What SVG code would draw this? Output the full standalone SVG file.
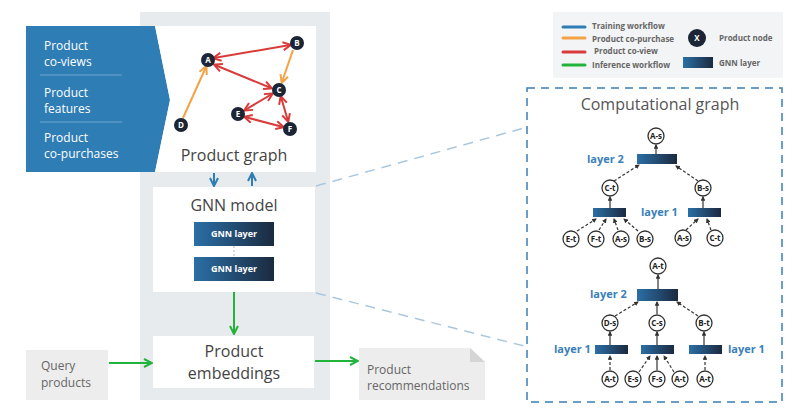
<svg xmlns="http://www.w3.org/2000/svg" width="800" height="420" viewBox="0 0 800 420">
<defs>
<linearGradient id="gl" x1="0" x2="1" y1="0" y2="0"><stop offset="0" stop-color="#2b6fa6"/><stop offset="1" stop-color="#1b2a3f"/></linearGradient>
<marker id="ar" viewBox="0 0 10 10" refX="8" refY="5" markerWidth="5" markerHeight="5" orient="auto-start-reverse"><path d="M1,1 L9,5 L1,9" fill="none" stroke="context-stroke" stroke-width="2"/></marker>
<marker id="ak" viewBox="0 0 10 10" refX="8" refY="5" markerWidth="4" markerHeight="4" orient="auto"><path d="M0,0 L10,5 L0,10 z" fill="#333"/></marker>
</defs>
<style>
text{font-family:"Open Sans","Noto Sans",sans-serif}
.side{fill:#fff;font-size:12px}
.big{fill:#444;font-size:16px;text-anchor:middle}
.gray{fill:#666;font-size:12px}
.gl{fill:url(#gl)}
.glt{fill:#fff;font-size:9px;font-weight:bold;text-anchor:middle}
.pn{fill:#1b2535}
.pnt{fill:#fff;font-size:8px;font-weight:bold;text-anchor:middle}
.red{stroke:#d93a3a;stroke-width:2;fill:none;marker-start:url(#ar);marker-end:url(#ar)}
.org{stroke:#f4a245;stroke-width:2;fill:none;marker-end:url(#ar)}
.cn circle{fill:#fff;stroke:#333;stroke-width:1.3}
.cn text{font-size:8px;font-weight:bold;text-anchor:middle;fill:#222}
.dsh{stroke:#333;stroke-width:1.2;stroke-dasharray:3,2;fill:none;marker-end:url(#ak)}
.sol{stroke:#333;stroke-width:1.2;fill:none;marker-end:url(#ak)}
.cn text.lay{fill:#3a80b8;font-size:11px;font-weight:bold;text-anchor:start}
.leg{fill:#666;font-size:8px;font-weight:bold}
.grn{stroke:#22b33c;stroke-width:2;fill:none;marker-end:url(#ar)}
.blu{stroke:#2e7db5;stroke-width:2;fill:none;marker-end:url(#ar)}
</style>
<rect x="0" y="0" width="800" height="420" fill="#fff"/>
<rect x="140" y="12" width="190" height="388" fill="#e8ebed"/>
<g id="sources">
<path d="M26,26 H155 L170,100 L155,172 H26 Z" fill="#2e7db5"/>
<line x1="40" y1="75" x2="122" y2="75" stroke="#6fa5cf"/>
<line x1="40" y1="122" x2="122" y2="122" stroke="#6fa5cf"/>
<text class="side" x="44" y="50">Product</text><text class="side" x="44" y="66">co-views</text>
<text class="side" x="44" y="97">Product</text><text class="side" x="44" y="113">features</text>
<text class="side" x="44" y="142">Product</text><text class="side" x="44" y="158">co-purchases</text>
</g>
<g id="product-graph">
<path d="M155,26 H316 V172 H155 V172 L170,100 Z" fill="#fff"/>
<line class="red" x1="214" y1="58" x2="290" y2="45"/>
<line class="org" x1="293" y1="50" x2="282" y2="82"/>
<line class="org" x1="183" y1="118" x2="206" y2="67"/>
<line class="red" x1="215" y1="65" x2="271" y2="88"/>
<line class="red" x1="272" y1="94" x2="245" y2="110"/>
<line class="red" x1="245" y1="117" x2="283" y2="127"/>
<line class="red" x1="281" y1="97" x2="288" y2="121"/>
<circle class="pn" cx="208" cy="60" r="7"/><text class="pnt" x="208" y="63">A</text>
<circle class="pn" cx="297" cy="43" r="7"/><text class="pnt" x="297" y="46">B</text>
<circle class="pn" cx="279" cy="90" r="7"/><text class="pnt" x="279" y="93">C</text>
<circle class="pn" cx="181" cy="125" r="7"/><text class="pnt" x="181" y="128">D</text>
<circle class="pn" cx="238" cy="114" r="7"/><text class="pnt" x="238" y="117">E</text>
<circle class="pn" cx="290" cy="129" r="7"/><text class="pnt" x="290" y="132">F</text>
<text class="big" x="234" y="161">Product graph</text>
</g>
<g id="gnn-model">
<rect x="153" y="187" width="162" height="105" fill="#fff"/>
<text class="big" x="234" y="211">GNN model</text>
<rect class="gl" x="194" y="222" width="80" height="24"/><text class="glt" x="234" y="237">GNN layer</text>
<line x1="234" y1="246" x2="234" y2="257" stroke="#bbb" stroke-dasharray="2,2"/>
<rect class="gl" x="194" y="257" width="80" height="24"/><text class="glt" x="234" y="272">GNN layer</text>
</g>
<g id="embeddings">
<rect x="153" y="336" width="161" height="52" fill="#fff"/>
<text class="big" x="234" y="357">Product</text><text class="big" x="234" y="379">embeddings</text>
</g>
<g id="query">
<rect x="26" y="350" width="82" height="50" fill="#ededed"/>
<text class="gray" x="41" y="370">Query</text><text class="gray" x="41" y="387">products</text>
</g>
<g id="recommendations">
<path d="M359,348 H470 L485,362 V400 H359 Z" fill="#ededed"/>
<path d="M470,348 V362 H485 Z" fill="#d5d5d5"/>
<text class="gray" x="367" y="374">Product</text><text class="gray" x="367" y="390">recommendations</text>
</g>
<g id="connectors">
<line class="blu" x1="214" y1="173" x2="214" y2="185"/>
<line class="blu" x1="252" y1="186" x2="252" y2="174"/>
<line class="grn" x1="234" y1="292" x2="234" y2="333"/>
<line class="grn" x1="109" y1="363" x2="151" y2="363"/>
<line class="grn" x1="315" y1="361" x2="357" y2="361"/>
<line x1="316" y1="186" x2="524" y2="128" stroke="#a9c8e0" stroke-width="1.5" stroke-dasharray="10,7"/>
<line x1="316" y1="293" x2="524" y2="346" stroke="#a9c8e0" stroke-width="1.5" stroke-dasharray="10,7"/>
</g>
<g id="legend">
<rect x="553" y="12" width="230" height="66" fill="#f3f4f5"/>
<line x1="563" y1="27" x2="585" y2="27" stroke="#2e7db5" stroke-width="3" stroke-linecap="round"/>
<line x1="563" y1="38" x2="585" y2="38" stroke="#f4a245" stroke-width="3" stroke-linecap="round"/>
<line x1="563" y1="52" x2="585" y2="52" stroke="#d93a3a" stroke-width="3" stroke-linecap="round"/>
<line x1="563" y1="65" x2="585" y2="65" stroke="#22b33c" stroke-width="3" stroke-linecap="round"/>
<text class="leg" x="592" y="29">Training workflow</text>
<text class="leg" x="592" y="42">Product co-purchase</text>
<text class="leg" x="594" y="54">Product co-view</text>
<text class="leg" x="592" y="68">Inference workflow</text>
<circle class="pn" cx="697" cy="38" r="9"/><text class="pnt" x="697" y="41">X</text>
<text class="leg" x="719" y="41">Product node</text>
<rect class="gl" x="683" y="57" width="30" height="11"/>
<text class="leg" x="719" y="66">GNN layer</text>
</g>
<g id="computational-graph">
<rect x="527" y="88" width="255" height="314" fill="none" stroke="#3a7fb5" stroke-width="1.5" stroke-dasharray="8,6"/>
<text x="660" y="110" style="fill:#555;font-size:16px;text-anchor:middle">Computational graph</text>
<g class="cn">
<rect class="gl" x="637" y="154" width="40" height="10"/>
<text class="lay" x="587" y="163">layer 2</text>
<rect class="gl" x="593" y="208" width="33" height="9"/>
<rect class="gl" x="688" y="208" width="33" height="9"/>
<text class="lay" x="641" y="216">layer 1</text>
<line class="sol" x1="656" y1="154" x2="656" y2="145"/>
<line class="dsh" x1="614" y1="181" x2="639" y2="165"/>
<line class="dsh" x1="698" y1="181" x2="676" y2="166"/>
<line class="sol" x1="610" y1="208" x2="610" y2="197"/>
<line class="sol" x1="703" y1="208" x2="703" y2="197"/>
<line class="dsh" x1="577" y1="231" x2="596" y2="219"/>
<line class="dsh" x1="599" y1="230" x2="606" y2="219"/>
<line class="dsh" x1="618" y1="230" x2="614" y2="219"/>
<line class="dsh" x1="638" y1="231" x2="624" y2="219"/>
<line class="dsh" x1="686" y1="230" x2="698" y2="219"/>
<line class="dsh" x1="711" y1="230" x2="707" y2="219"/>
<circle cx="656" cy="136" r="8"/><text x="656" y="139">A-s</text>
<circle cx="610" cy="188" r="8"/><text x="610" y="191">C-t</text>
<circle cx="703" cy="188" r="8"/><text x="703" y="191">B-s</text>
<circle cx="571" cy="239" r="8"/><text x="571" y="242">E-t</text>
<circle cx="596" cy="239" r="8"/><text x="596" y="242">F-t</text>
<circle cx="621" cy="239" r="8"/><text x="621" y="242">A-s</text>
<circle cx="645" cy="239" r="8"/><text x="645" y="242">B-s</text>
<circle cx="683" cy="238" r="8"/><text x="683" y="241">A-s</text>
<circle cx="715" cy="238" r="8"/><text x="715" y="241">C-t</text>

<rect class="gl" x="637" y="289" width="41" height="12"/>
<text class="lay" x="590" y="298">layer 2</text>
<rect class="gl" x="595" y="345" width="33" height="9"/>
<rect class="gl" x="641" y="345" width="33" height="9"/>
<rect class="gl" x="689" y="345" width="33" height="9"/>
<text class="lay" x="554" y="353">layer 1</text>
<text class="lay" x="728" y="353">layer 1</text>
<line class="sol" x1="658" y1="289" x2="658" y2="275"/>
<line class="dsh" x1="615" y1="316" x2="638" y2="302"/>
<line class="sol" x1="657" y1="314" x2="657" y2="302"/>
<line class="dsh" x1="698" y1="316" x2="677" y2="302"/>
<line class="sol" x1="610" y1="345" x2="610" y2="332"/>
<line class="sol" x1="657" y1="345" x2="657" y2="332"/>
<line class="sol" x1="704" y1="345" x2="704" y2="332"/>
<line class="dsh" x1="610" y1="370" x2="610" y2="356"/>
<line class="dsh" x1="639" y1="372" x2="650" y2="356"/>
<line class="sol" x1="657" y1="370" x2="657" y2="356"/>
<line class="dsh" x1="674" y1="372" x2="664" y2="356"/>
<line class="dsh" x1="705" y1="370" x2="705" y2="356"/>
<circle cx="658" cy="266" r="8"/><text x="658" y="269">A-t</text>
<circle cx="610" cy="323" r="8"/><text x="610" y="326">D-s</text>
<circle cx="657" cy="323" r="8"/><text x="657" y="326">C-s</text>
<circle cx="704" cy="323" r="8"/><text x="704" y="326">B-t</text>
<circle cx="610" cy="379" r="8"/><text x="610" y="382">A-t</text>
<circle cx="633" cy="379" r="8"/><text x="633" y="382">E-s</text>
<circle cx="657" cy="379" r="8"/><text x="657" y="382">F-s</text>
<circle cx="680" cy="379" r="8"/><text x="680" y="382">A-t</text>
<circle cx="705" cy="379" r="8"/><text x="705" y="382">A-t</text>
</g>
</g>
</svg>
